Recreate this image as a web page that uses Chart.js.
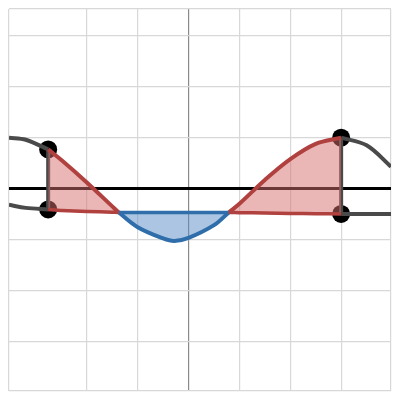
<!DOCTYPE html>
<html><head><meta charset="utf-8">
<script src="https://cdn.jsdelivr.net/npm/chart.js@4"></script>
<style>html,body{margin:0;padding:0;background:#fff}#c{width:400px;height:400px}</style>
</head><body><div id="c"><canvas id="chart" width="400" height="400"></canvas></div>
<script>
// sampled x positions and readings of the two curves
const xsLeft = [-3.53, -3.2, -2.76];
const fLeft = [1.0, 0.96, 0.77];
const gLeft = [-0.32, -0.38, -0.41];

const xsMid = [-2.76, -2.5, -2, -1.5, -1.37, -1, -0.5, -0.28, 0, 0.5, 0.79, 1, 1.5, 2, 2.5, 3];
const fMid = [0.77, 0.56, 0.12, -0.35, -0.47, -0.76, -0.98, -1.03, -0.97, -0.72, -0.47, -0.3, 0.17, 0.58, 0.88, 1.0];
const gMid = [-0.41, -0.43, -0.45, -0.465, -0.47, -0.47, -0.47, -0.47, -0.47, -0.47, -0.47, -0.475, -0.48, -0.49, -0.495, -0.5];

const xsRight = [3, 3.5, 3.98];
const fRight = [1.0, 0.85, 0.43];
const gRight = [-0.5, -0.5, -0.5];

const dots = [[-2.76, 0.77], [-2.76, -0.41], [3, 1.0], [3, -0.5]];
const blueFrom = -1.37, blueTo = 0.79;

const RED = '#b0413e', BLUE = '#2f6eaa', GRAY = '#4a4a4a';
const pts = (xs, ys) => xs.map((x, i) => ({ x, y: ys[i] }));
const inBlue = c => c.p0.parsed.x >= blueFrom - 1e-6 && c.p1.parsed.x <= blueTo + 1e-6;

const line = (data, color, extra) => Object.assign({
  data, borderColor: color, borderWidth: 4, pointRadius: 0, showLine: true,
  tension: 0.35, fill: false
}, extra || {});

const datasets = [
  line(pts(xsMid, gMid), RED, { borderWidth: 3.5, tension: 0.2, segment: { borderColor: c => inBlue(c) ? BLUE : RED } }),
  line(pts(xsMid, fMid), RED, {
    fill: { target: 0, above: 'rgba(214,110,110,0.5)', below: 'rgba(90,140,200,0.5)' },
    segment: { borderColor: c => inBlue(c) ? BLUE : RED }
  }),
  line(pts(xsLeft, fLeft), GRAY),
  line(pts(xsLeft, gLeft), GRAY),
  line(pts(xsRight, fRight), GRAY),
  line(pts(xsRight, gRight), GRAY, { tension: 0 }),
  line([{ x: -2.76, y: 0.77 }, { x: -2.76, y: -0.41 }], GRAY, { tension: 0 }),
  line([{ x: 3, y: 1.0 }, { x: 3, y: -0.5 }], GRAY, { tension: 0 }),
  line([{ x: -3.53, y: 0 }, { x: 3.98, y: 0 }], '#000', { borderWidth: 3, tension: 0 }),
  { data: dots.map(d => ({ x: d[0], y: d[1] })), pointRadius: 9, pointBackgroundColor: '#000', pointBorderWidth: 0, showLine: false }
];

const grid = {
  color: c => c.tick.value === 0 ? '#8a8a8a' : '#d8d8d8',
  lineWidth: c => c.tick.value === 0 ? 1.2 : 1.2,
  drawTicks: false
};

new Chart(document.getElementById('chart'), {
  type: 'scatter',
  data: { datasets },
  options: {
    responsive: false, animation: false,
    layout: { padding: 0 },
    plugins: { legend: { display: false }, tooltip: { enabled: false } },
    scales: {
      x: { min: -3.53, max: 3.98, border: { display: false },
        ticks: { display: false, stepSize: 1 }, grid,
        afterFit: s => { s.height = 0; } },
      y: { min: -3.98, max: 3.53, border: { display: false },
        ticks: { display: false, stepSize: 1 }, grid,
        afterFit: s => { s.width = 0; } }
    }
  }
});
</script></body></html>
